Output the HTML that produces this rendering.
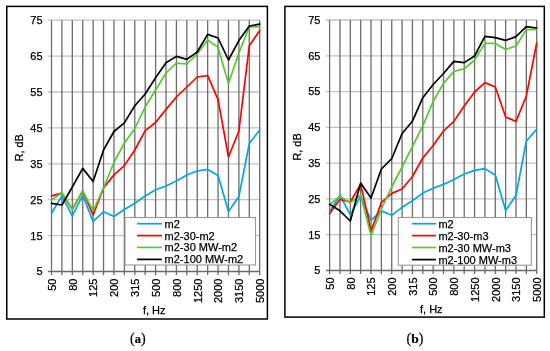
<!DOCTYPE html>
<html><head><meta charset="utf-8"><title>Sound insulation R vs frequency</title>
<style>html,body{margin:0;padding:0;background:#fff;}body{width:550px;height:351px;overflow:hidden;}svg{display:block;}.t{font-family:"Liberation Sans",Arial,sans-serif;font-size:11px;fill:#000;stroke:#000;stroke-width:0.25px;}.c{font-family:"Liberation Serif","Times New Roman",serif;font-size:14px;fill:#000;stroke:#000;stroke-width:0.2px;}</style></head><body>
<svg width="550" height="351" viewBox="0 0 550 351">
<rect x="0" y="0" width="550" height="351" fill="#fff"/>
<g><line x1="47.9" y1="235.6" x2="259.7" y2="235.6" stroke="#c2c2c2" stroke-width="1.3"/><line x1="47.9" y1="199.7" x2="259.7" y2="199.7" stroke="#c2c2c2" stroke-width="1.3"/><line x1="47.9" y1="163.8" x2="259.7" y2="163.8" stroke="#c2c2c2" stroke-width="1.3"/><line x1="47.9" y1="127.9" x2="259.7" y2="127.9" stroke="#c2c2c2" stroke-width="1.3"/><line x1="47.9" y1="92" x2="259.7" y2="92" stroke="#c2c2c2" stroke-width="1.3"/><line x1="47.9" y1="56.1" x2="259.7" y2="56.1" stroke="#c2c2c2" stroke-width="1.3"/><line x1="47.9" y1="20.2" x2="259.7" y2="20.2" stroke="#c2c2c2" stroke-width="1.3"/><line x1="51.5" y1="20.2" x2="51.5" y2="275.1" stroke="#6c6c6c" stroke-width="1.3"/><line x1="61.91" y1="20.2" x2="61.91" y2="275.1" stroke="#6c6c6c" stroke-width="1.3"/><line x1="72.32" y1="20.2" x2="72.32" y2="275.1" stroke="#6c6c6c" stroke-width="1.3"/><line x1="82.73" y1="20.2" x2="82.73" y2="275.1" stroke="#6c6c6c" stroke-width="1.3"/><line x1="93.14" y1="20.2" x2="93.14" y2="275.1" stroke="#6c6c6c" stroke-width="1.3"/><line x1="103.55" y1="20.2" x2="103.55" y2="275.1" stroke="#6c6c6c" stroke-width="1.3"/><line x1="113.96" y1="20.2" x2="113.96" y2="275.1" stroke="#6c6c6c" stroke-width="1.3"/><line x1="124.37" y1="20.2" x2="124.37" y2="275.1" stroke="#6c6c6c" stroke-width="1.3"/><line x1="134.78" y1="20.2" x2="134.78" y2="275.1" stroke="#6c6c6c" stroke-width="1.3"/><line x1="145.19" y1="20.2" x2="145.19" y2="275.1" stroke="#6c6c6c" stroke-width="1.3"/><line x1="155.6" y1="20.2" x2="155.6" y2="275.1" stroke="#6c6c6c" stroke-width="1.3"/><line x1="166.01" y1="20.2" x2="166.01" y2="275.1" stroke="#6c6c6c" stroke-width="1.3"/><line x1="176.42" y1="20.2" x2="176.42" y2="275.1" stroke="#6c6c6c" stroke-width="1.3"/><line x1="186.83" y1="20.2" x2="186.83" y2="275.1" stroke="#6c6c6c" stroke-width="1.3"/><line x1="197.24" y1="20.2" x2="197.24" y2="275.1" stroke="#6c6c6c" stroke-width="1.3"/><line x1="207.65" y1="20.2" x2="207.65" y2="275.1" stroke="#6c6c6c" stroke-width="1.3"/><line x1="218.06" y1="20.2" x2="218.06" y2="275.1" stroke="#6c6c6c" stroke-width="1.3"/><line x1="228.47" y1="20.2" x2="228.47" y2="275.1" stroke="#6c6c6c" stroke-width="1.3"/><line x1="238.88" y1="20.2" x2="238.88" y2="275.1" stroke="#6c6c6c" stroke-width="1.3"/><line x1="249.29" y1="20.2" x2="249.29" y2="275.1" stroke="#6c6c6c" stroke-width="1.3"/><line x1="259.7" y1="20.2" x2="259.7" y2="275.1" stroke="#6c6c6c" stroke-width="1.3"/><line x1="47.9" y1="271.5" x2="259.7" y2="271.5" stroke="#6a6a6a" stroke-width="1.3"/></g>
<polyline points="51.5,213.3 61.91,195.9 72.32,215.9 82.73,195.4 93.14,221.4 103.55,211.8 113.96,216.5 124.37,209.5 134.78,203.3 145.19,196 155.6,189.8 166.01,186 176.42,181 186.83,175 197.24,171 207.65,169.4 218.06,175.4 228.47,211.4 238.88,196.6 249.29,143.5 259.7,130" fill="none" stroke="#00a6e6" stroke-width="1.7" stroke-linejoin="round" stroke-linecap="round"/>
<polyline points="51.5,195.9 61.91,193.1 72.32,209.4 82.73,191 93.14,214.9 103.55,188 113.96,174.9 124.37,165.6 134.78,150 145.19,130.7 155.6,122.5 166.01,109.4 176.42,97 186.83,87 197.24,77 207.65,75.6 218.06,99.6 228.47,157 238.88,131 249.29,45.8 259.7,30.6" fill="none" stroke="#ff0000" stroke-width="1.7" stroke-linejoin="round" stroke-linecap="round"/>
<polyline points="51.5,200 61.91,192.8 72.32,209.5 82.73,190.8 93.14,211 103.55,188 113.96,162.5 124.37,143 134.78,128.5 145.19,107 155.6,90 166.01,73 176.42,63.2 186.83,64 197.24,54 207.65,40 218.06,47.4 228.47,83.5 238.88,53 249.29,27 259.7,26.6" fill="none" stroke="#55c833" stroke-width="1.7" stroke-linejoin="round" stroke-linecap="round"/>
<polyline points="51.5,203.4 61.91,205 72.32,187 82.73,168.4 93.14,181.5 103.55,150 113.96,131.5 124.37,122.9 134.78,105.8 145.19,94 155.6,77.8 166.01,62.8 176.42,56.4 186.83,59.4 197.24,52 207.65,34.4 218.06,38 228.47,60 238.88,40.6 249.29,26 259.7,24.2" fill="none" stroke="#000000" stroke-width="1.7" stroke-linejoin="round" stroke-linecap="round"/>
<rect x="125" y="217.5" width="130.5" height="47.5" fill="#fff" stroke="#999999" stroke-width="1.1"/>
<line x1="137.1" y1="223.7" x2="161.9" y2="223.7" stroke="#00a6e6" stroke-width="1.7"/>
<text class="t" x="164.6" y="227.7">m2</text>
<line x1="137.1" y1="235.6" x2="161.9" y2="235.6" stroke="#ff0000" stroke-width="1.7"/>
<text class="t" x="164.6" y="239.6">m2-30-m2</text>
<line x1="137.1" y1="247.4" x2="161.9" y2="247.4" stroke="#55c833" stroke-width="1.7"/>
<text class="t" x="164.6" y="251.4">m2-30 MW-m2</text>
<line x1="137.1" y1="259.4" x2="161.9" y2="259.4" stroke="#000000" stroke-width="1.7"/>
<text class="t" x="164.6" y="263.4">m2-100 MW-m2</text>
<text class="t" x="42.6" y="275.4" text-anchor="end">5</text>
<text class="t" x="42.6" y="239.5" text-anchor="end">15</text>
<text class="t" x="42.6" y="203.6" text-anchor="end">25</text>
<text class="t" x="42.6" y="167.7" text-anchor="end">35</text>
<text class="t" x="42.6" y="131.8" text-anchor="end">45</text>
<text class="t" x="42.6" y="95.9" text-anchor="end">55</text>
<text class="t" x="42.6" y="60" text-anchor="end">65</text>
<text class="t" x="42.6" y="24.1" text-anchor="end">75</text>
<text class="t" text-anchor="middle" transform="translate(22.8,147.8) rotate(-90)">R, dB</text>
<text class="t" text-anchor="end" transform="translate(55.8,278.6) rotate(-90)">50</text>
<text class="t" text-anchor="end" transform="translate(76.62,278.6) rotate(-90)">80</text>
<text class="t" text-anchor="end" transform="translate(97.44,278.6) rotate(-90)">125</text>
<text class="t" text-anchor="end" transform="translate(118.26,278.6) rotate(-90)">200</text>
<text class="t" text-anchor="end" transform="translate(139.08,278.6) rotate(-90)">315</text>
<text class="t" text-anchor="end" transform="translate(159.9,278.6) rotate(-90)">500</text>
<text class="t" text-anchor="end" transform="translate(180.72,278.6) rotate(-90)">800</text>
<text class="t" text-anchor="end" transform="translate(201.54,278.6) rotate(-90)">1250</text>
<text class="t" text-anchor="end" transform="translate(222.36,278.6) rotate(-90)">2000</text>
<text class="t" text-anchor="end" transform="translate(243.18,278.6) rotate(-90)">3150</text>
<text class="t" text-anchor="end" transform="translate(264,278.6) rotate(-90)">5000</text>
<text class="t" x="154.2" y="313.9" text-anchor="middle">f, Hz</text>
<rect x="6.75" y="6.4" width="260.65" height="312.6" fill="none" stroke="#000" stroke-width="1.5"/>
<text class="c" x="137.8" y="342.7" text-anchor="middle">(<tspan font-weight="bold" font-size="12.5px">a</tspan>)</text>
<g><line x1="326" y1="234.71" x2="536.7" y2="234.71" stroke="#c2c2c2" stroke-width="1.3"/><line x1="326" y1="198.93" x2="536.7" y2="198.93" stroke="#c2c2c2" stroke-width="1.3"/><line x1="326" y1="163.14" x2="536.7" y2="163.14" stroke="#c2c2c2" stroke-width="1.3"/><line x1="326" y1="127.36" x2="536.7" y2="127.36" stroke="#c2c2c2" stroke-width="1.3"/><line x1="326" y1="91.57" x2="536.7" y2="91.57" stroke="#c2c2c2" stroke-width="1.3"/><line x1="326" y1="55.79" x2="536.7" y2="55.79" stroke="#c2c2c2" stroke-width="1.3"/><line x1="326" y1="20" x2="536.7" y2="20" stroke="#c2c2c2" stroke-width="1.3"/><line x1="329.6" y1="20" x2="329.6" y2="274.1" stroke="#6c6c6c" stroke-width="1.3"/><line x1="339.96" y1="20" x2="339.96" y2="274.1" stroke="#6c6c6c" stroke-width="1.3"/><line x1="350.31" y1="20" x2="350.31" y2="274.1" stroke="#6c6c6c" stroke-width="1.3"/><line x1="360.67" y1="20" x2="360.67" y2="274.1" stroke="#6c6c6c" stroke-width="1.3"/><line x1="371.02" y1="20" x2="371.02" y2="274.1" stroke="#6c6c6c" stroke-width="1.3"/><line x1="381.38" y1="20" x2="381.38" y2="274.1" stroke="#6c6c6c" stroke-width="1.3"/><line x1="391.73" y1="20" x2="391.73" y2="274.1" stroke="#6c6c6c" stroke-width="1.3"/><line x1="402.09" y1="20" x2="402.09" y2="274.1" stroke="#6c6c6c" stroke-width="1.3"/><line x1="412.44" y1="20" x2="412.44" y2="274.1" stroke="#6c6c6c" stroke-width="1.3"/><line x1="422.8" y1="20" x2="422.8" y2="274.1" stroke="#6c6c6c" stroke-width="1.3"/><line x1="433.15" y1="20" x2="433.15" y2="274.1" stroke="#6c6c6c" stroke-width="1.3"/><line x1="443.5" y1="20" x2="443.5" y2="274.1" stroke="#6c6c6c" stroke-width="1.3"/><line x1="453.86" y1="20" x2="453.86" y2="274.1" stroke="#6c6c6c" stroke-width="1.3"/><line x1="464.22" y1="20" x2="464.22" y2="274.1" stroke="#6c6c6c" stroke-width="1.3"/><line x1="474.57" y1="20" x2="474.57" y2="274.1" stroke="#6c6c6c" stroke-width="1.3"/><line x1="484.93" y1="20" x2="484.93" y2="274.1" stroke="#6c6c6c" stroke-width="1.3"/><line x1="495.28" y1="20" x2="495.28" y2="274.1" stroke="#6c6c6c" stroke-width="1.3"/><line x1="505.63" y1="20" x2="505.63" y2="274.1" stroke="#6c6c6c" stroke-width="1.3"/><line x1="515.99" y1="20" x2="515.99" y2="274.1" stroke="#6c6c6c" stroke-width="1.3"/><line x1="526.35" y1="20" x2="526.35" y2="274.1" stroke="#6c6c6c" stroke-width="1.3"/><line x1="536.7" y1="20" x2="536.7" y2="274.1" stroke="#6c6c6c" stroke-width="1.3"/><line x1="326" y1="270.5" x2="536.7" y2="270.5" stroke="#6a6a6a" stroke-width="1.3"/></g>
<polyline points="329.6,211.8 339.96,195.2 350.31,214.8 360.67,196.4 371.02,220.3 381.38,210.9 391.73,215.3 402.09,207.3 412.44,200.8 422.8,193.1 433.15,188.3 443.5,184.4 453.86,179.6 464.22,174 474.57,170.4 484.93,168.6 495.28,175 505.63,210.5 515.99,195.5 526.35,141 536.7,129.4" fill="none" stroke="#00a6e6" stroke-width="1.7" stroke-linejoin="round" stroke-linecap="round"/>
<polyline points="329.6,213.5 339.96,199.5 350.31,202 360.67,184.1 371.02,231 381.38,202.6 391.73,193.4 402.09,189 412.44,176.5 422.8,158 433.15,145.5 443.5,131 453.86,121.4 464.22,106 474.57,92 484.93,82.6 495.28,87 505.63,117 515.99,121.4 526.35,96 536.7,43" fill="none" stroke="#ff0000" stroke-width="1.7" stroke-linejoin="round" stroke-linecap="round"/>
<polyline points="329.6,204.5 339.96,196.4 350.31,202.8 360.67,194.9 371.02,235.6 381.38,209 391.73,187 402.09,167 412.44,146.5 422.8,125.8 433.15,101.5 443.5,83.3 453.86,71.4 464.22,68.8 474.57,60 484.93,43.4 495.28,43.4 505.63,49.4 515.99,46 526.35,29.6 536.7,29.4" fill="none" stroke="#55c833" stroke-width="1.7" stroke-linejoin="round" stroke-linecap="round"/>
<polyline points="329.6,204.3 339.96,210.8 350.31,221 360.67,183 371.02,198 381.38,169 391.73,158.7 402.09,133.5 412.44,121.2 422.8,97.7 433.15,84.5 443.5,73.5 453.86,61.4 464.22,62.6 474.57,56 484.93,36.4 495.28,37.6 505.63,40.4 515.99,36.6 526.35,26.6 536.7,28" fill="none" stroke="#000000" stroke-width="1.7" stroke-linejoin="round" stroke-linecap="round"/>
<rect x="398.3" y="217.5" width="133.1" height="47.7" fill="#fff" stroke="#999999" stroke-width="1.1"/>
<line x1="411.9" y1="223.7" x2="435.9" y2="223.7" stroke="#00a6e6" stroke-width="1.7"/>
<text class="t" x="438.4" y="227.7">m2</text>
<line x1="411.9" y1="235.6" x2="435.9" y2="235.6" stroke="#ff0000" stroke-width="1.7"/>
<text class="t" x="438.4" y="239.6">m2-30-m3</text>
<line x1="411.9" y1="247.5" x2="435.9" y2="247.5" stroke="#55c833" stroke-width="1.7"/>
<text class="t" x="438.4" y="251.5">m2-30 MW-m3</text>
<line x1="411.9" y1="259.6" x2="435.9" y2="259.6" stroke="#000000" stroke-width="1.7"/>
<text class="t" x="438.4" y="263.6">m2-100 MW-m3</text>
<text class="t" x="320.4" y="274.4" text-anchor="end">5</text>
<text class="t" x="320.4" y="238.61" text-anchor="end">15</text>
<text class="t" x="320.4" y="202.83" text-anchor="end">25</text>
<text class="t" x="320.4" y="167.04" text-anchor="end">35</text>
<text class="t" x="320.4" y="131.26" text-anchor="end">45</text>
<text class="t" x="320.4" y="95.47" text-anchor="end">55</text>
<text class="t" x="320.4" y="59.69" text-anchor="end">65</text>
<text class="t" x="320.4" y="23.9" text-anchor="end">75</text>
<text class="t" text-anchor="middle" transform="translate(301.1,147) rotate(-90)">R, dB</text>
<text class="t" text-anchor="end" transform="translate(333.9,277.4) rotate(-90)">50</text>
<text class="t" text-anchor="end" transform="translate(354.61,277.4) rotate(-90)">80</text>
<text class="t" text-anchor="end" transform="translate(375.32,277.4) rotate(-90)">125</text>
<text class="t" text-anchor="end" transform="translate(396.03,277.4) rotate(-90)">200</text>
<text class="t" text-anchor="end" transform="translate(416.74,277.4) rotate(-90)">315</text>
<text class="t" text-anchor="end" transform="translate(437.45,277.4) rotate(-90)">500</text>
<text class="t" text-anchor="end" transform="translate(458.16,277.4) rotate(-90)">800</text>
<text class="t" text-anchor="end" transform="translate(478.87,277.4) rotate(-90)">1250</text>
<text class="t" text-anchor="end" transform="translate(499.58,277.4) rotate(-90)">2000</text>
<text class="t" text-anchor="end" transform="translate(520.29,277.4) rotate(-90)">3150</text>
<text class="t" text-anchor="end" transform="translate(541,277.4) rotate(-90)">5000</text>
<text class="t" x="431.3" y="312.8" text-anchor="middle">f, Hz</text>
<rect x="284.9" y="6.4" width="259.4" height="310.7" fill="none" stroke="#000" stroke-width="1.5"/>
<text class="c" x="414.9" y="343.3" text-anchor="middle">(<tspan font-weight="bold" font-size="13.5px">b</tspan>)</text>
</svg></body></html>
